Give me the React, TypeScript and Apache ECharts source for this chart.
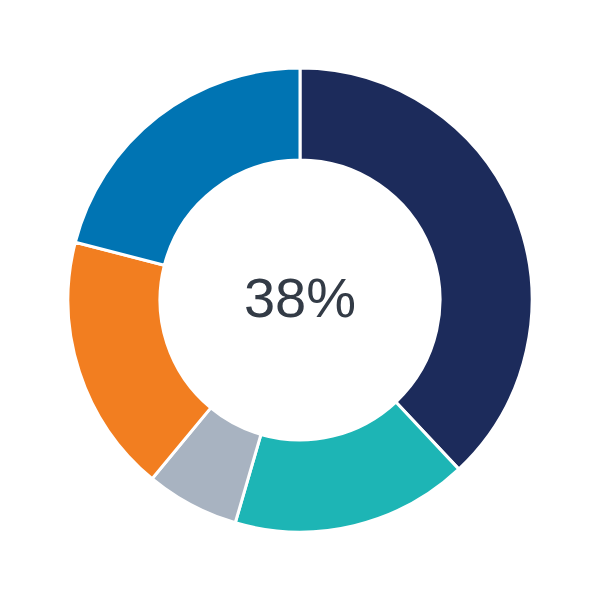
import { useEffect, useRef } from 'react';
import * as echarts from 'echarts';

const segmentNames = ['Navy', 'Teal', 'Gray', 'Orange', 'Blue'];
const segmentValues = [38, 16.5, 6.5, 18, 21];
const segmentColors = ['#1c2b5b', '#1db5b5', '#a8b3c1', '#f27e20', '#0074b3'];
const centerLabel = '38%';

export default function App() {
  const chartRef = useRef<HTMLDivElement | null>(null);

  useEffect(() => {
    const element = chartRef.current;
    if (!element) return;

    const chart = echarts.init(element, undefined, { renderer: 'svg' });
    chart.setOption({
      animation: false,
      graphic: [
        {
          type: 'text',
          x: 300,
          y: 297,
          style: {
            text: centerLabel,
            align: 'center',
            verticalAlign: 'middle',
            fontFamily: 'Liberation Sans, Arial, sans-serif',
            fontSize: 56,
            fill: '#333b46',
          },
        },
      ],
      series: [
        {
          type: 'pie',
          center: [300, 300],
          radius: [140, 232],
          startAngle: 90,
          clockwise: true,
          label: { show: false },
          labelLine: { show: false },
          emphasis: { disabled: true },
          itemStyle: { borderColor: '#ffffff', borderWidth: 3 },
          data: segmentNames.map((name, i) => ({
            name,
            value: segmentValues[i],
            itemStyle: { color: segmentColors[i] },
          })),
        },
      ],
    });

    return () => {
      chart.dispose();
    };
  }, []);

  return <div ref={chartRef} style={{ width: 600, height: 600, margin: -8 }} />;
}
